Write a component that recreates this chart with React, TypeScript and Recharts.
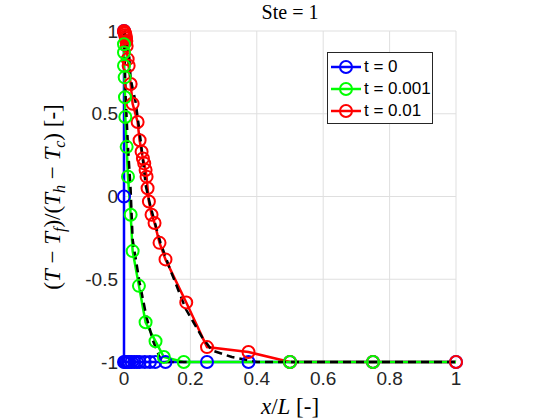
import React from 'react';
import { CartesianGrid, Legend, Line, LineChart, XAxis, YAxis } from 'recharts';

// nodal values, x/L and scaled temperature
const blueX = [0, 0, 0, 0.004, 0.008, 0.012, 0.016, 0.023, 0.031, 0.039, 0.047, 0.0625, 0.078, 0.094, 0.125, 0.25, 0.375, 0.5, 0.75, 1];
const blueY = [1, 0, -1, -1, -1, -1, -1, -1, -1, -1, -1, -1, -1, -1, -1, -1, -1, -1, -1, -1];

const greenX = [0, 0, 0, 0, 0, 0, 0.002, 0.003, 0.004, 0.008, 0.012, 0.02, 0.026, 0.045, 0.065, 0.095, 0.12, 0.18, 0.5, 0.75, 1];
const greenY = [1, 0.98, 0.95, 0.92, 0.87, 0.79, 0.72, 0.6, 0.48, 0.3, 0.12, -0.11, -0.33, -0.54, -0.76, -0.875, -0.97, -1, -1, -1, -1];

const redX = [
  0, 0.001, 0.002, 0.003, 0.004, 0.005, 0.006, 0.007, 0.008, 0.011, 0.014, 0.02, 0.026, 0.041, 0.047, 0.053,
  0.057, 0.061, 0.065, 0.068, 0.071, 0.075, 0.083, 0.092, 0.107, 0.125, 0.1875, 0.25, 0.375, 0.5, 0.75, 1
];
const redY = [
  1, 0.995, 0.99, 0.985, 0.975, 0.965, 0.955, 0.94, 0.91, 0.83, 0.79, 0.68, 0.56, 0.45, 0.34, 0.27,
  0.23, 0.2, 0.16, 0.12, 0.05, -0.03, -0.11, -0.16, -0.28, -0.38, -0.64, -0.91, -0.94, -1, -1, -1
];

// analytical profiles (black dashed)
const exactEarlyX = [0, 0.005, 0.012, 0.02, 0.026, 0.047, 0.068, 0.087, 0.107, 0.12, 0.2];
const exactEarlyY = [1, 0.6, 0.3, 0.04, -0.26, -0.52, -0.73, -0.87, -0.97, -1, -1];
const exactLateX = [0, 0.015, 0.02, 0.035, 0.045, 0.05, 0.066, 0.08, 0.096, 0.11, 0.135, 0.186, 0.235, 0.265, 0.325, 0.4, 1];
const exactLateY = [1, 0.87, 0.71, 0.57, 0.42, 0.34, 0.06, -0.06, -0.18, -0.28, -0.42, -0.68, -0.85, -0.93, -0.97, -1, -1];

const legendOrder = ['t = 0', 't = 0.001', 't = 0.01'];
const xTicks = [0, 0.2, 0.4, 0.6, 0.8, 1];
const yTicks = [-1, -0.5, 0, 0.5, 1];

const toPoints = (xs: number[], ys: number[]) => xs.map((x, i) => ({ x, y: ys[i] }));

const blueData = toPoints(blueX, blueY);
const greenData = toPoints(greenX, greenY);
const redData = toPoints(redX, redY);
const exactEarly = toPoints(exactEarlyX, exactEarlyY);
const exactLate = toPoints(exactLateX, exactLateY);

const SANS = '"Liberation Sans", Arial, sans-serif';
const SERIF = '"Liberation Serif", "Times New Roman", serif';
const GRID = '#dfdfdf';

const marker = (color: string) => ({ r: 6, stroke: color, strokeWidth: 2, fill: 'none' });

// in the figure the red markers sit on top of the green ones at x = 1 and in the top cluster
const greenDot = (props: any) => {
  const { cx, cy, index, payload } = props;
  if (payload.x === 1 || payload.y > 0.94) return <g key={`gd-${index}`} />;
  return <circle key={`gd-${index}`} cx={cx} cy={cy} r={6} stroke="#00ff00" strokeWidth={2} fill="none" />;
};

const LegendBox = (props: any) => {
  const entries = (props.payload || [])
    .filter((e: any) => e.type !== 'none')
    .sort((a: any, b: any) => legendOrder.indexOf(a.value) - legendOrder.indexOf(b.value));
  return (
    <div
      style={{
        width: 104,
        height: 67,
        border: '1px solid #262626',
        background: '#fff',
        paddingTop: 3,
        boxSizing: 'content-box'
      }}
    >
      {entries.map((entry: any) => (
        <div key={entry.value} style={{ display: 'flex', alignItems: 'center', height: 22 }}>
          <svg width={34} height={22}>
            <line x1={3} x2={33} y1={11} y2={11} stroke={entry.color} strokeWidth={2.5} />
            <circle cx={18} cy={11} r={6} stroke={entry.color} strokeWidth={2} fill="none" />
          </svg>
          <span style={{ fontFamily: SANS, fontSize: 17, color: '#000', marginLeft: 2, lineHeight: '22px' }}>
            {entry.value}
          </span>
        </div>
      ))}
    </div>
  );
};

export default function App() {
  return (
    <div style={{ position: 'fixed', left: 0, top: 0, width: 560, height: 420, background: '#fff' }}>
      <LineChart width={560} height={420} margin={{ top: 31, right: 104, bottom: 0, left: 0 }}>
        <CartesianGrid stroke={GRID} />
        <XAxis
          type="number"
          dataKey="x"
          domain={[0, 1]}
          ticks={xTicks}
          height={58}
          axisLine={false}
          tickLine={false}
          tickMargin={4}
          tick={{ fontFamily: SANS, fontSize: 19, fill: '#262626' }}
          tickFormatter={(v: number) => String(v)}
        />
        <YAxis
          type="number"
          dataKey="y"
          domain={[-1, 1]}
          ticks={yTicks}
          width={124}
          axisLine={false}
          tickLine={false}
          tickMargin={0}
          tick={{ fontFamily: SANS, fontSize: 19, fill: '#262626' }}
          tickFormatter={(v: number) => String(v)}
        />
        <Legend
          layout="horizontal"
          verticalAlign="middle"
          align="center"
          content={<LegendBox />}
          wrapperStyle={{ position: 'absolute', left: 327, top: 52, width: 'auto', height: 'auto' }}
        />
        <Line
          data={blueData}
          dataKey="y"
          name="t = 0"
          type="linear"
          stroke="#0000ff"
          strokeWidth={2.5}
          dot={marker('#0000ff')}
          activeDot={false}
          isAnimationActive={false}
        />
        <Line
          data={redData}
          dataKey="y"
          name="t = 0.01"
          type="linear"
          stroke="#ff0000"
          strokeWidth={2.5}
          dot={marker('#ff0000')}
          activeDot={false}
          isAnimationActive={false}
        />
        <Line
          data={greenData}
          dataKey="y"
          name="t = 0.001"
          type="linear"
          stroke="#00ff00"
          strokeWidth={2.5}
          dot={greenDot}
          activeDot={false}
          isAnimationActive={false}
        />
        <Line
          data={exactEarly}
          dataKey="y"
          name="exact 0.001"
          legendType="none"
          type="linear"
          stroke="#000"
          strokeWidth={2.5}
          strokeDasharray="8 5"
          dot={false}
          activeDot={false}
          isAnimationActive={false}
        />
        <Line
          data={exactLate}
          dataKey="y"
          name="exact 0.01"
          legendType="none"
          type="linear"
          stroke="#000"
          strokeWidth={2.5}
          strokeDasharray="8 5"
          dot={false}
          activeDot={false}
          isAnimationActive={false}
        />
      </LineChart>
      <svg width={560} height={420} style={{ position: 'absolute', left: 0, top: 0, pointerEvents: 'none' }}>
        <text x={290} y={19} textAnchor="middle" fontFamily={SERIF} fontSize={20} fill="#000">
          Ste = 1
        </text>
        <text x={290} y={414} textAnchor="middle" fontFamily={SERIF} fontSize={23} fill="#000">
          <tspan fontStyle="italic">x</tspan>/<tspan fontStyle="italic">L</tspan> [-]
        </text>
        <text
          x={60}
          y={197}
          transform="rotate(-90 60 197)"
          textAnchor="middle"
          fontFamily={SERIF}
          fontSize={23}
          fill="#000"
        >
          (<tspan fontStyle="italic">T</tspan> − <tspan fontStyle="italic">T</tspan>
          <tspan fontStyle="italic" fontSize={16} dy={5}>f</tspan>
          <tspan dy={-5}>)/(</tspan>
          <tspan fontStyle="italic">T</tspan>
          <tspan fontStyle="italic" fontSize={16} dy={5}>h</tspan>
          <tspan dy={-5}> − </tspan>
          <tspan fontStyle="italic">T</tspan>
          <tspan fontStyle="italic" fontSize={16} dy={5}>c</tspan>
          <tspan dy={-5}>) [-]</tspan>
        </text>
      </svg>
    </div>
  );
}
